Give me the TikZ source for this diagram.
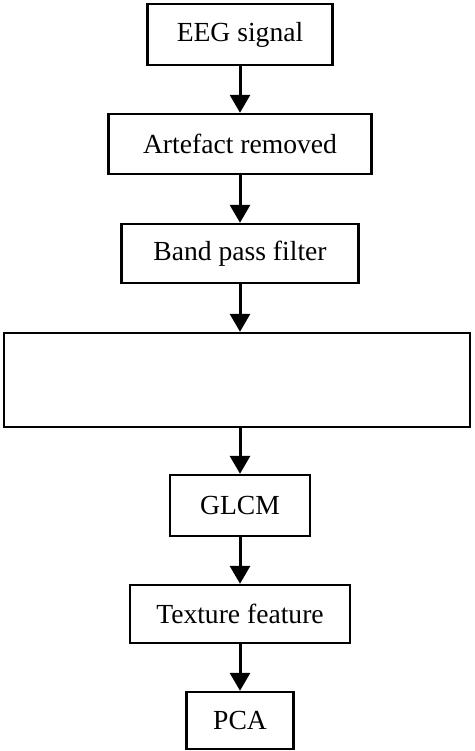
\documentclass[tikz,border=0pt]{standalone}
\usepackage{fontspec}
\setmainfont{Liberation Serif}
\usetikzlibrary{arrows.meta}

\tikzset{
  stepbox/.style={draw, line width=2.4pt, inner sep=0pt, font=\fontsize{27.6}{30}\selectfont},
  flow/.style={line width=3pt, -{Triangle[length=18pt,width=20pt]}}
}

\begin{document}
\begin{tikzpicture}[x=1pt,y=-1pt]
		\useasboundingbox (0,0) rectangle (474,751);

		\node [stepbox, minimum width=185pt, minimum height=61pt] (eeg) at (240,34.5) {EEG signal};
		\node [stepbox, minimum width=263pt, minimum height=60pt] (artefact) at (240,144) {Artefact removed};
		\node [stepbox, minimum width=237pt, minimum height=59pt] (bandpass) at (240,253.5) {Band pass filter};
		\node [stepbox, minimum width=466pt, minimum height=94pt] (wide) at (237,380) {};
		\node [stepbox, minimum width=140pt, minimum height=61pt] (glcm) at (240,505.5) {GLCM};
		\node [stepbox, minimum width=220pt, minimum height=58pt] (texture) at (240,614) {Texture feature};
		\node [stepbox, minimum width=107pt, minimum height=57pt] (pca) at (240,720.5) {PCA};

		\draw [flow] (eeg.south) -- (artefact.north);
		\draw [flow] (artefact.south) -- (bandpass.north);
		\draw [flow] (bandpass.south) -- (bandpass.south |- wide.north);
		\draw [flow] (bandpass.south |- wide.south) -- (glcm.north);
		\draw [flow] (glcm.south) -- (texture.north);
		\draw [flow] (texture.south) -- (pca.north);
\end{tikzpicture}
\end{document}
